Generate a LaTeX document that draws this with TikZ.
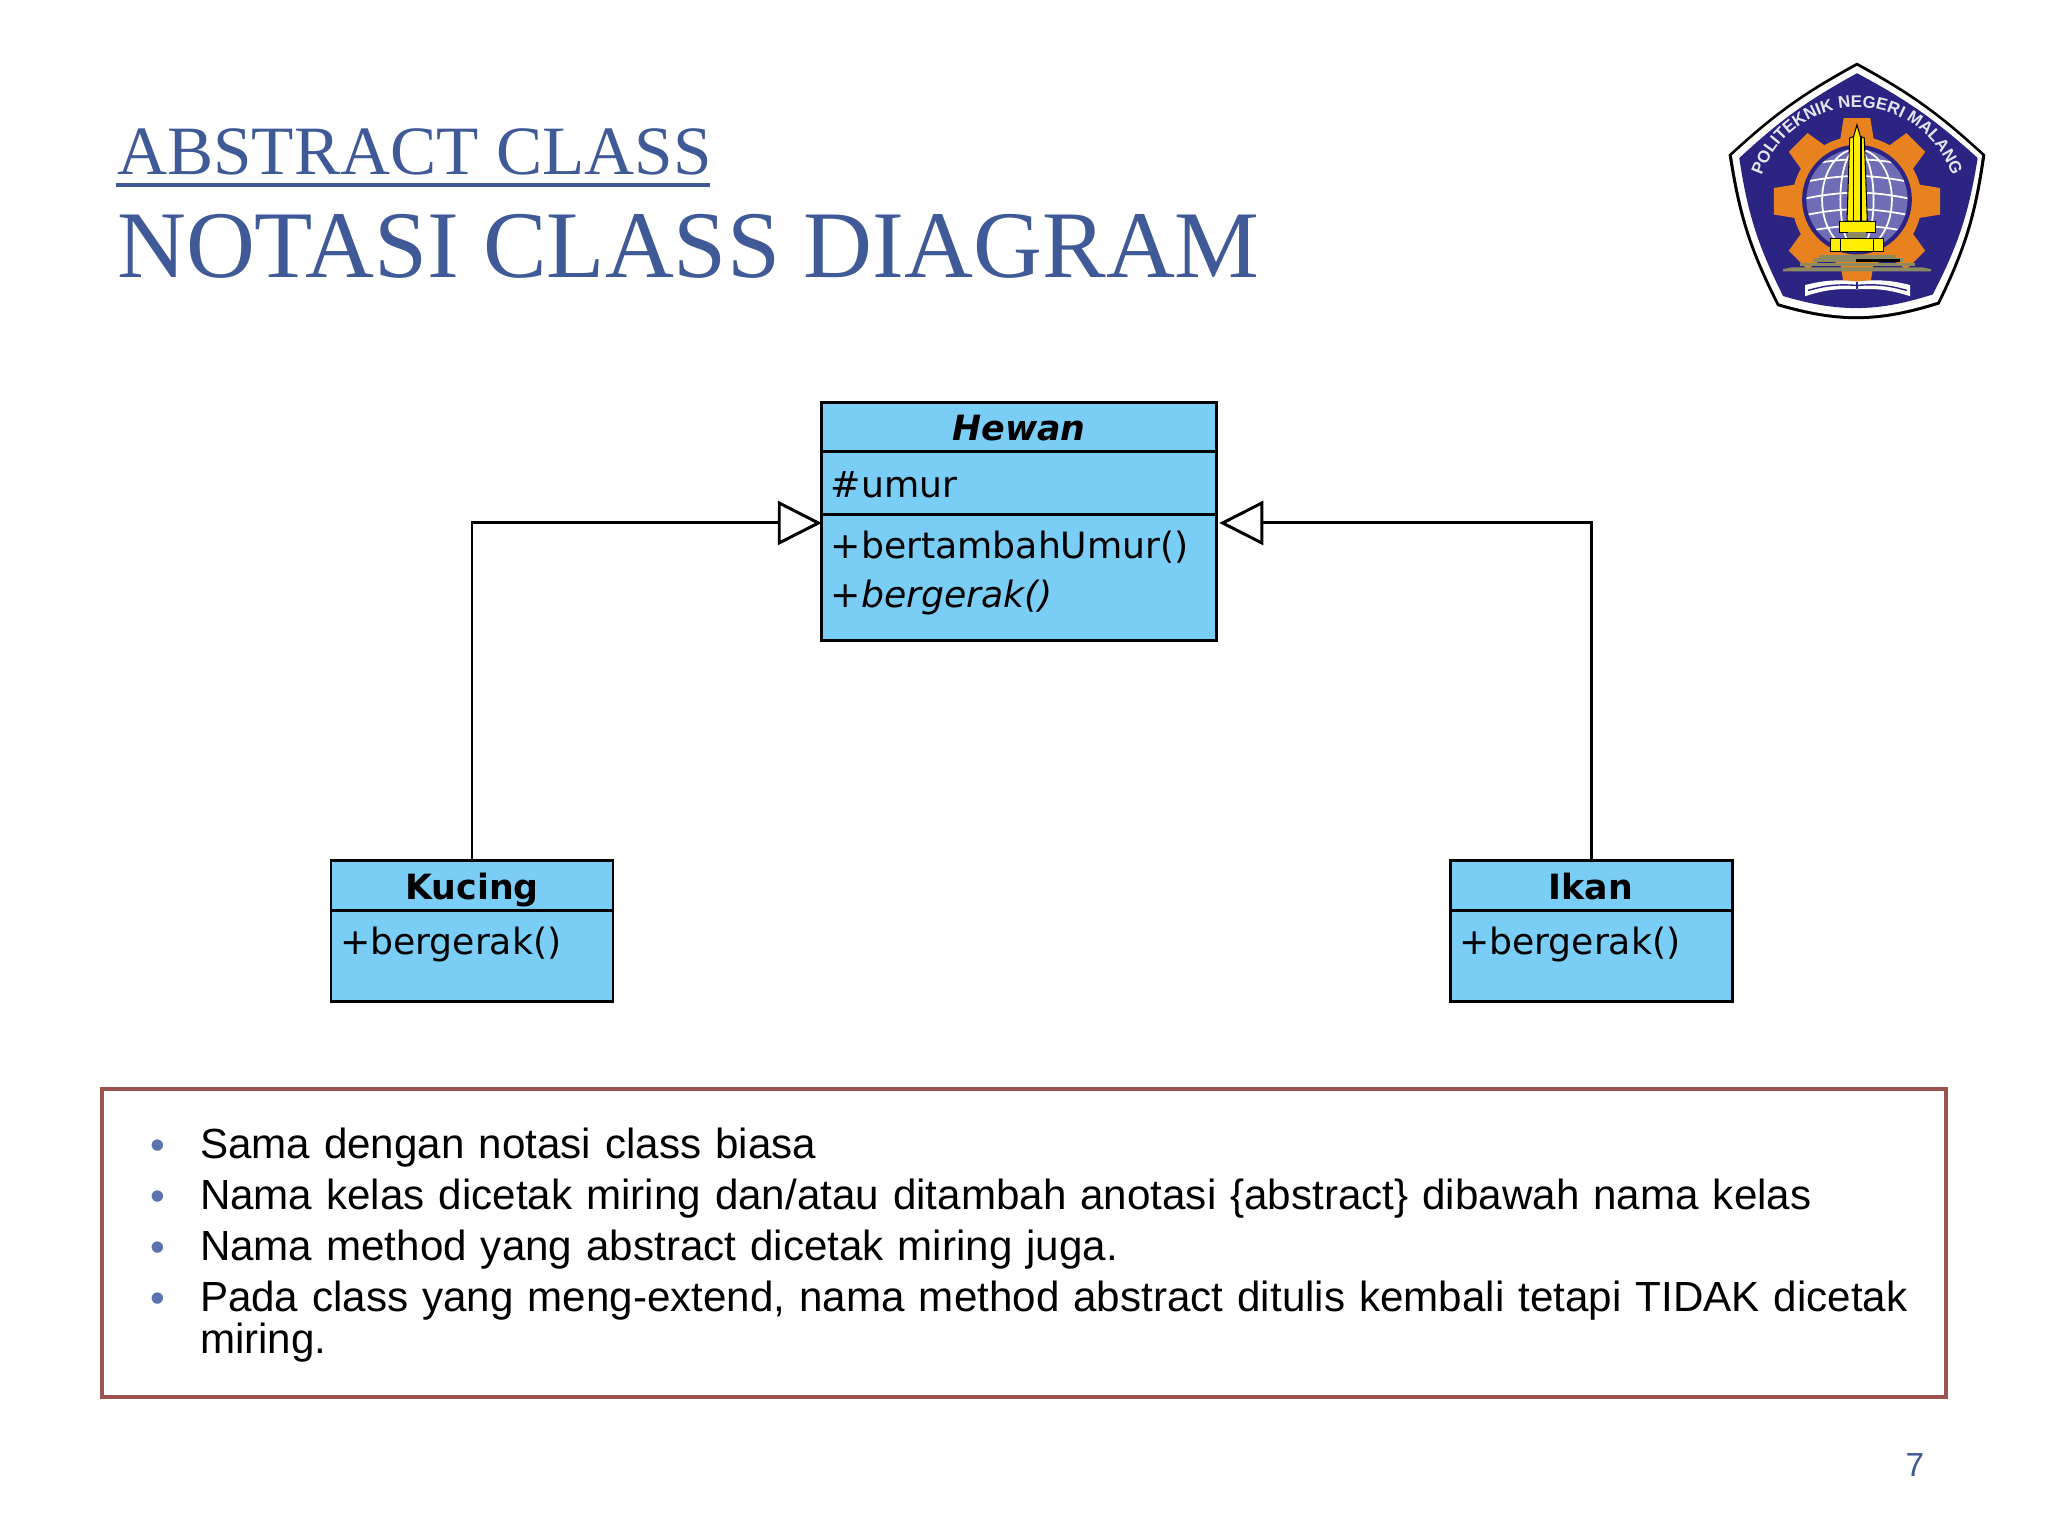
\documentclass[tikz,border=0pt]{standalone}
\usepackage{fontspec}
\setmainfont{Liberation Sans}
\newfontfamily\titlefont{Liberation Serif}
\newfontfamily\umlfont{DejaVu Sans}
\usetikzlibrary{positioning,arrows.meta,decorations.text}
\definecolor{umlblue}{HTML}{7ACDF5}
\definecolor{titleblue}{HTML}{3F5A96}
\definecolor{noteedge}{HTML}{9C5350}
\definecolor{bulletblue}{HTML}{5B74B0}
\definecolor{logonavy}{HTML}{2B2483}
\definecolor{logoorange}{HTML}{E8821E}
\definecolor{logoglobe}{HTML}{6F6DB5}
\definecolor{logoyellow}{HTML}{FFEE00}
\definecolor{logoolive}{HTML}{8C8A60}
\tikzstyle{pclass}=[rectangle, draw=black, fill=umlblue, line width=0.85pt, outer sep=0pt,
                    minimum width=3.945cm, inner xsep=0.09cm, inner ysep=0pt, text width=3.765cm,
                    font=\umlfont\fontsize{10.3}{13.8}\selectfont]
\tikzstyle{psub}=[pclass, minimum width=2.82cm, text width=2.64cm, minimum height=0.91cm,
                  text height=0.33cm, text depth=0.37cm]
\tikzstyle{pname}=[pclass, text centered, text height=0.335cm, text depth=0.065cm]
\tikzstyle{psubname}=[pname, font=\umlfont\fontsize{9.9}{13.66}\selectfont\bfseries,
                      minimum width=2.82cm, text width=2.64cm, minimum height=0.50cm]
\tikzstyle{pline}=[-, line width=0.85pt]
\tikzstyle{pgen}=[pline, -{Triangle[open, fill=white, length=0.44cm, width=0.44cm]}]
\tikzstyle{ptitle}=[anchor=base west, inner sep=0pt, text=titleblue]
\tikzstyle{pitem}=[inner sep=0pt, outer sep=0pt, text width=17.4cm, text height=0.35cm, text depth=0.16cm,
                   font=\fontsize{11.99}{11.95}\selectfont,
                   label={[text=bulletblue, inner sep=0pt, label distance=0.34cm, font=\fontsize{11.95}{12}\selectfont]left:•}]

\begin{document}
\begin{tikzpicture}[node distance=0mm]
\useasboundingbox (0,0) rectangle (20.48,15.36);

% heading
\node (TTL1) [ptitle, font=\titlefont\fontsize{19.7}{20}\selectfont] at (1.165,13.61) {ABSTRACT CLASS};
\node (TTL2) [ptitle, font=\titlefont\fontsize{27.15}{28}\selectfont] at (1.165,12.58) {NOTASI CLASS DIAGRAM};
\draw[titleblue, line width=0.04cm] (TTL1.base west) ++(0,-0.10) -- ++(5.93,0);

% logo
\begin{scope}[shift={(17,14.96)}, x=0.00333cm, y=0.00333cm]
 \fill[black] (472,-68) to[bend left=7] (858,-345) to[bend left=9] (720,-795)
   to[bend left=17] (232,-800) to[bend left=9] (86,-345) to[bend left=7] cycle;
 \fill[white] (472,-78) to[bend left=7] (848,-347) to[bend left=9] (714,-787)
   to[bend left=17] (238,-792) to[bend left=9] (96,-347) to[bend left=7] cycle;
 \fill[logonavy] (472,-100) to[bend left=7] (835,-355) to[bend left=9] (700,-765)
   to[bend left=17] (250,-770) to[bend left=9] (118,-355) to[bend left=7] cycle;
 \fill[logoorange] (472,-485) circle (195);
 \foreach \ang in {0,45,...,315}
   \fill[logoorange, shift={(472,-485)}, rotate=\ang] (175,-52) -- (250,-40) -- (250,40) -- (175,52) -- cycle;
 \fill[logonavy] (472,-480) circle (165);
 \fill[logoglobe] (472,-480) circle (152);
 \begin{scope}
  \clip (472,-480) circle (152);
  \foreach \rx in {50,105}
    \draw[white, line width=0.5pt] (472,-480) ellipse ({\rx} and 152);
  \foreach \dy in {-100,-50,0,50,100}
    \draw[white, line width=0.5pt] (300,-480+\dy) to[bend left=12] (644,-480+\dy);
 \end{scope}
 % steps
 \fill[logoolive] (358,-645) rectangle (590,-655);
 \fill[logoolive] (340,-657) rectangle (610,-667);
 \fill[logoolive] (300,-671) rectangle (645,-681);
 \fill[logoolive] (250,-689) -- (275,-684) -- (670,-684) -- (695,-689) -- (695,-696) -- (250,-696) -- cycle;
 \fill[black] (470,-659) rectangle (600,-667);
 % monument
 \draw[black, fill=logoyellow, line width=0.3pt] (442,-545) -- (450,-295) -- (462,-290) -- (472,-255)
   -- (482,-290) -- (494,-295) -- (503,-545) -- cycle;
 \draw[black, line width=0.3pt] (462,-290) -- (462,-545) (484,-290) -- (484,-545);
 \draw[black, fill=logoyellow, line width=0.3pt] (418,-545) rectangle (528,-578);
 \fill[logoolive] (445,-578) rectangle (500,-597);
 \draw[black, fill=logoyellow, line width=0.3pt] (393,-597) rectangle (552,-635);
 \draw[black, line width=0.3pt] (423,-597) -- (423,-635) (522,-597) -- (522,-635);
 % book
 \fill[logoorange] (430,-700) -- (515,-700) -- (472,-714) -- cycle;
 \draw[white, fill=white, line width=0.3pt] (318,-738) to[bend left=10] (472,-728) to[bend left=10] (630,-738)
   -- (630,-768) to[bend right=10] (472,-748) to[bend right=10] (318,-768) -- cycle;
 \draw[logonavy, line width=0.4pt] (325,-753) to[bend left=10] (472,-738) to[bend left=10] (622,-753);
 \draw[logonavy, line width=0.5pt] (472,-728) -- (472,-748);
 % ring text
 \path[decorate, decoration={text along path, text align=center,
    text={|\bfseries\fontsize{4.8}{5}\selectfont\color{white!88!logonavy}|POLITEKNIK NEGERI MALANG}}]
    (472,-505) ++(163:302) arc (163:17:302);
\end{scope}

% class diagram
\node (HWNN) [pname, font=\umlfont\fontsize{9.9}{13.66}\selectfont\bfseries\itshape, minimum height=0.49cm] at (10.19,11.085) {Hewan};
\node (HWNA) [pclass, below=of HWNN, minimum height=0.63cm, text height=0.335cm, text depth=0.055cm] {\#umur};
\node (HWNM) [pclass, below=of HWNA, minimum height=1.26cm, text height=0.34cm, text depth=0.72cm] {+bertambahUmur()\\\textit{+bergerak()}};
\node (KCNG) [psubname] at (4.72,6.50) {Kucing};
\node (KCNM) [psub, below=of KCNG] {+bergerak()};
\node (IKAN) [psubname, right=8.37cm of KCNG] {Ikan};
\node (IKNM) [psub, below=of IKAN] {+bergerak()};
\coordinate (HWNL) at ([yshift=-0.08cm]HWNM.north west);
\coordinate (HWNR) at ([xshift=0.03cm,yshift=-0.08cm]HWNM.north east);
 \draw[pgen] (KCNG.north) |- (HWNL);
 \draw[pgen] (IKAN.north) |- (HWNR);

% note box
\node (NOTE) [rectangle, draw=noteedge, line width=0.04cm, minimum width=18.44cm, minimum height=3.08cm] at (10.24,2.93) {};
\node (ITM1) [pitem, anchor=base west] at (2.00,3.77) {Sama dengan notasi class biasa};
\node (ITM2) [pitem, below=of ITM1] {Nama kelas dicetak miring dan/atau ditambah anotasi \{abstract\} dibawah nama kelas};
\node (ITM3) [pitem, below=of ITM2] {Nama method yang abstract dicetak miring juga.};
\node (ITM4) [pitem, below=of ITM3] {Pada class yang meng-extend, nama method abstract ditulis kembali tetapi TIDAK dicetak\\miring.};

\node (PAGE) [text=titleblue, inner sep=0pt, font=\fontsize{9.5}{10}\selectfont] at (19.15,0.71) {7};

\end{tikzpicture}
\end{document}
